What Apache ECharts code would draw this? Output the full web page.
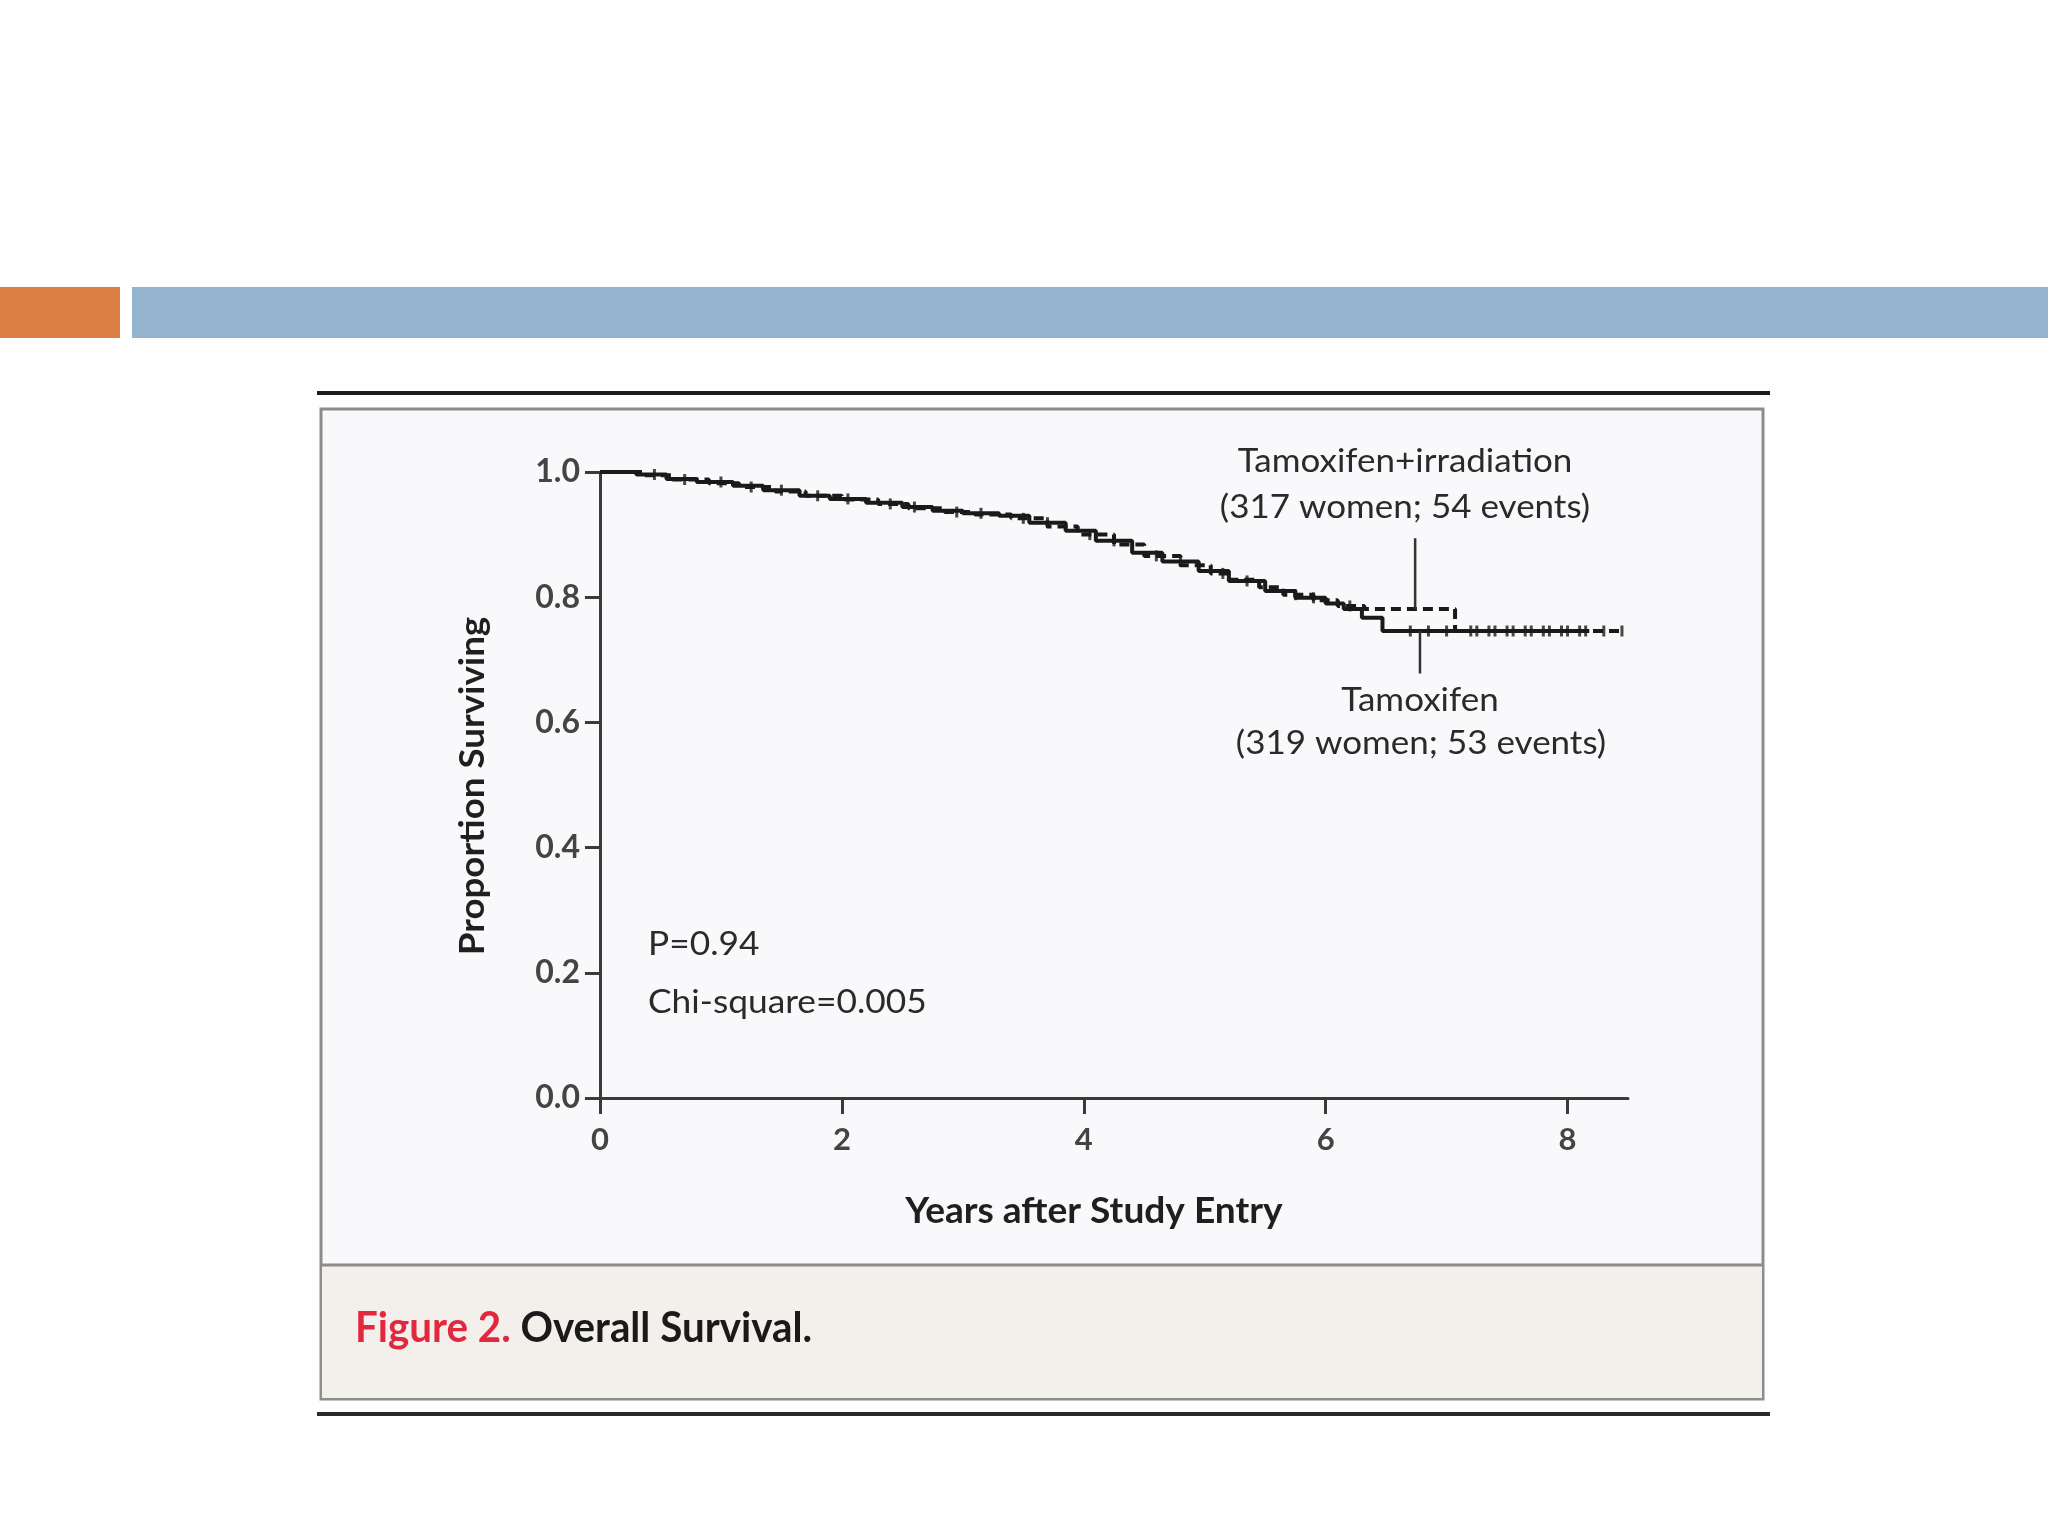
<!DOCTYPE html>
<html>
<head>
<meta charset="utf-8">
<script src="https://cdn.jsdelivr.net/npm/echarts@6/dist/echarts.min.js"></script>
<style>
html,body{margin:0;padding:0;background:#fefefe;}
#chart{width:2048px;height:1536px;}
</style>
</head>
<body>
<div id="chart"></div>
<script>
// ---- Data ----
var xTicks = [0, 2, 4, 6, 8];
var yTicks = [0.0, 0.2, 0.4, 0.6, 0.8, 1.0];

// Tamoxifen (solid)
var tamTime = [0, 0.3, 0.55, 0.8, 1.1, 1.35, 1.65, 1.9, 2.2, 2.5, 2.75, 3.0, 3.3, 3.55, 3.85, 4.1, 4.4, 4.65, 4.95, 5.2, 5.5, 5.75, 6.0, 6.15, 6.3, 6.47, 8.18];
var tamSurv = [1.0, 0.996, 0.989, 0.984, 0.978, 0.971, 0.962, 0.957, 0.951, 0.944, 0.938, 0.934, 0.930, 0.919, 0.906, 0.890, 0.871, 0.857, 0.842, 0.826, 0.810, 0.799, 0.790, 0.781, 0.767, 0.746, 0.746];
var tamCensor = [0.45, 1.0, 1.5, 2.05, 2.6, 3.15, 3.7, 4.25, 4.8, 5.35, 5.9, 6.7, 6.85, 7.0, 7.2, 7.35, 7.5, 7.65, 7.8, 7.95, 8.1];

// Tamoxifen + irradiation (dashed)
var tirTime = [0, 0.35, 0.6, 0.9, 1.15, 1.45, 1.7, 2.0, 2.3, 2.55, 2.85, 3.1, 3.4, 3.7, 3.95, 4.25, 4.5, 4.8, 5.05, 5.2, 5.45, 5.65, 5.9, 6.1, 6.32, 7.07, 8.45];
var tirSurv = [1.0, 0.995, 0.988, 0.982, 0.976, 0.969, 0.962, 0.956, 0.949, 0.942, 0.936, 0.932, 0.926, 0.913, 0.900, 0.884, 0.866, 0.851, 0.838, 0.828, 0.816, 0.804, 0.795, 0.786, 0.781, 0.746, 0.746];
var tirCensor = [0.7, 1.25, 1.8, 2.4, 2.95, 3.5, 4.05, 4.6, 5.15, 5.75, 6.2, 7.25, 7.4, 7.55, 7.7, 7.85, 8.0, 8.15, 8.3, 8.45];

// Leader lines from labels to curves
var leaderTop = [[6.74, 0.781], [6.74, 0.894]];
var leaderBottom = [[6.78, 0.746], [6.78, 0.678]];

var labelTop = ["Tamoxifen+irradiation", "(317 women; 54 events)"];
var labelBottom = ["Tamoxifen", "(319 women; 53 events)"];
var statsText = ["P=0.94", "Chi-square=0.005"];
var xTitle = "Years after Study Entry";
var yTitle = "Proportion Surviving";
var captionRed = "Figure 2.";
var captionBlack = "Overall Survival.";

// ---- Build ----
function pairs(t, s) { return t.map(function (v, i) { return [v, s[i]]; }); }
function survAt(t, s, x) {
  var v = s[0];
  for (var i = 0; i < t.length; i++) { if (t[i] <= x) v = s[i]; }
  return v;
}
function censorPts(ct, t, s) { return ct.map(function (x) { return [x, survAt(t, s, x)]; }); }

var FONT = 'Lato';
var chart = echarts.init(document.getElementById('chart'));

function annot(x, y, txt, align, size, sx) {
  return { type: 'text', z: 10, x: x, y: y, scaleX: sx,
    style: { text: txt, fontFamily: FONT, fontSize: size, fill: '#2a2a2a', textAlign: align, textVerticalAlign: 'middle' } };
}

var option = {
  backgroundColor: '#fefefe',
  animation: false,
  grid: { left: 600, right: 420, top: 472, bottom: 438, containLabel: false },
  xAxis: {
    type: 'value', min: 0, max: 8.5, interval: 2,
    axisLine: { show: true, onZero: false, lineStyle: { color: '#3a3a3a', width: 3 } },
    axisTick: { show: true, inside: false, length: 16, lineStyle: { color: '#3a3a3a', width: 3 } },
    axisLabel: { show: true, margin: 26, fontFamily: FONT, fontSize: 31, fontWeight: 'bold', color: '#444',
      showMaxLabel: false,
      formatter: function (v) { return xTicks.indexOf(v) >= 0 ? String(v) : ''; } },
    splitLine: { show: false }
  },
  yAxis: {
    type: 'value', min: 0, max: 1.0, interval: 0.2,
    axisLine: { show: true, onZero: false, lineStyle: { color: '#3a3a3a', width: 3 } },
    axisTick: { show: true, inside: false, length: 15, lineStyle: { color: '#3a3a3a', width: 3 } },
    axisLabel: { show: true, margin: 20, fontFamily: FONT, fontSize: 32, fontWeight: 'bold', color: '#444',
      formatter: function (v) { return v.toFixed(1); } },
    splitLine: { show: false }
  },
  series: [
    {
      name: 'Tamoxifen', type: 'line', step: 'end', data: pairs(tamTime, tamSurv),
      showSymbol: false, lineStyle: { color: '#1a1a1a', width: 4 }, z: 3
    },
    {
      name: 'Tamoxifen+irradiation', type: 'line', step: 'end', data: pairs(tirTime, tirSurv),
      showSymbol: false, lineStyle: { color: '#1a1a1a', width: 4, type: [10, 6] }, z: 3
    },
    {
      type: 'scatter', data: censorPts(tamCensor, tamTime, tamSurv),
      symbol: 'rect', symbolSize: [3, 11], itemStyle: { color: '#1a1a1a' }, z: 4
    },
    {
      type: 'scatter', data: censorPts(tirCensor, tirTime, tirSurv),
      symbol: 'rect', symbolSize: [3, 11], itemStyle: { color: '#1a1a1a' }, z: 4
    },
    {
      type: 'line', data: leaderTop, showSymbol: false,
      lineStyle: { color: '#333', width: 2.5 }, z: 3
    },
    {
      type: 'line', data: leaderBottom, showSymbol: false,
      lineStyle: { color: '#333', width: 2.5 }, z: 3
    }
  ],
  graphic: [
    // header bars
    { type: 'rect', z: -5, shape: { x: 0, y: 287, width: 120, height: 51 }, style: { fill: '#dc7f42' } },
    { type: 'rect', z: -5, shape: { x: 132, y: 287, width: 1916, height: 51 }, style: { fill: '#94b3cf' } },
    // figure rules
    { type: 'rect', z: -5, shape: { x: 317, y: 391, width: 1453, height: 4 }, style: { fill: '#1c1c1c' } },
    { type: 'rect', z: -5, shape: { x: 317, y: 1412, width: 1453, height: 4 }, style: { fill: '#2a2a2a' } },
    // frame
    { type: 'rect', z: -6, shape: { x: 321, y: 409, width: 1442, height: 990 },
      style: { fill: '#f9f9fb', stroke: '#8c8c8c', lineWidth: 3 } },
    { type: 'rect', z: -5, shape: { x: 322, y: 1265, width: 1440, height: 133 },
      style: { fill: '#f3f0ec' } },
    { type: 'line', z: -4, shape: { x1: 321, y1: 1265, x2: 1763, y2: 1265 },
      style: { stroke: '#8c8c8c', lineWidth: 3 } },
    // annotations
    annot(1405, 461, labelTop[0], 'center', 33, 1.06),
    annot(1405, 507, labelTop[1], 'center', 33, 1.06),
    annot(1420, 700, labelBottom[0], 'center', 33, 1.06),
    annot(1421, 743, labelBottom[1], 'center', 33, 1.06),
    annot(648, 944, statsText[0], 'left', 33, 1.07),
    annot(648, 1002, statsText[1], 'left', 33, 1.07),
    // axis titles
    { type: 'text', z: 10, x: 1094, y: 1211, scaleX: 1.03,
      style: { text: xTitle, fontFamily: FONT, fontSize: 36, fontWeight: 'bold', fill: '#1f1f1f', textAlign: 'center', textVerticalAlign: 'middle' } },
    { type: 'text', z: 10, x: 473, y: 786, rotation: Math.PI / 2, scaleX: 1.08,
      style: { text: yTitle, fontFamily: FONT, fontSize: 34, fontWeight: 'bold', fill: '#1f1f1f', textAlign: 'center', textVerticalAlign: 'middle' } },
    // caption
    { type: 'text', z: 10, x: 355, y: 1328, scaleX: 0.96,
      style: { text: '{r|' + captionRed + '}{b|' + captionBlack + '}', textAlign: 'left', textVerticalAlign: 'middle',
        rich: {
          r: { fontFamily: FONT, fontSize: 42, fill: '#e2283f', fontWeight: 'bold', padding: [0, 10, 0, 0] },
          b: { fontFamily: FONT, fontSize: 42, fill: '#1a1a1a', fontWeight: 'bold' }
        } } }
  ]
};
chart.setOption(option);
</script>
</body>
</html>
